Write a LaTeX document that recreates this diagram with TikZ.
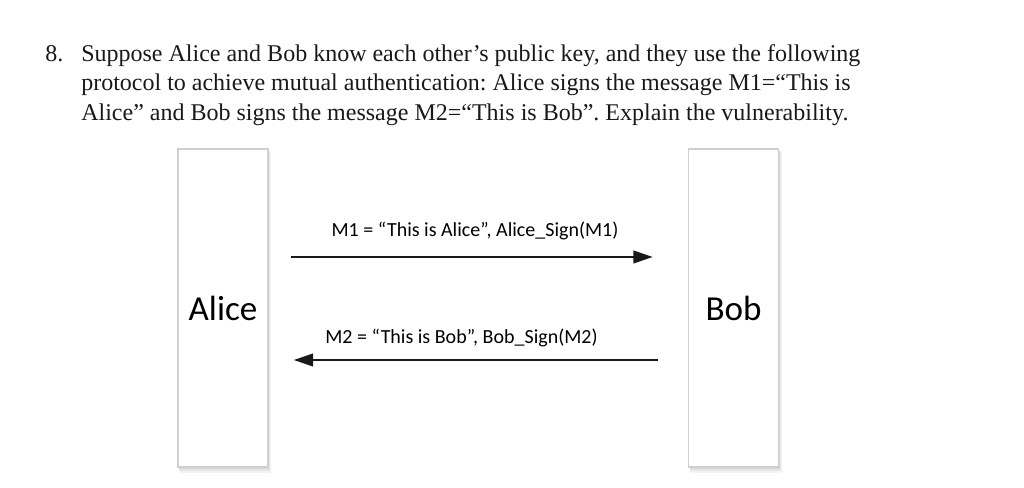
\documentclass[tikz,border=0pt]{standalone}
\usepackage{fontspec}
\setmainfont{Liberation Serif}
\newfontfamily\carlito{Carlito}
\usetikzlibrary{arrows.meta,calc}
\definecolor{boxline}{HTML}{CFCFCF}
\definecolor{shad}{HTML}{BDBDBD}
\frenchspacing
\begin{document}
\begin{tikzpicture}[x=0.75pt,y=-0.75pt,
  party/.style={draw=boxline,line width=1.2pt,fill=white,minimum width=67.5pt,minimum height=238.5pt,inner sep=0pt,font=\carlito\fontsize{26.3}{30}\selectfont},
  msg/.style={line width=1.5pt,draw=black!90},
  tip/.style={-{Triangle[length=14.5pt,width=9.5pt]}},
  lbl/.style={anchor=base,inner sep=0pt,font=\carlito\fontsize{15}{18}\selectfont},
  qline/.style={anchor=base west,inner sep=0pt,font=\fontsize{18}{21}\selectfont,text=black!90}]
\useasboundingbox (0,0) rectangle (1024,488);
% question text
\node[qline] (num) at (45,62) {8.};
\node[qline] (q1) at (81,62) {Suppose Alice and Bob know each other’s public key, and they use the following};
\node[qline] (q2) at (81,91) {protocol to achieve mutual authentication: Alice signs the message M1=“This is};
\node[qline] (q3) at (81,120.5) {Alice” and Bob signs the message M2=“This is Bob”. Explain the vulnerability.};
% shadows
\foreach \c in {223,733.5}{
  \fill[shad,opacity=0.18] (\c-45+1,149+3) rectangle (\c+45+3,467+6);
  \fill[shad,opacity=0.25] (\c-45+1,149+2) rectangle (\c+45+2,467+4);
  \fill[shad,opacity=0.35] (\c-45+1,149+1) rectangle (\c+45+1,467+2);
}
% parties
\node[party] (alice) at (223,308) {Alice};
\node[party] (bob) at (733.5,308) {Bob};
% messages
\draw[msg,tip] ([xshift=16.5pt,yshift=38.25pt]alice.east) coordinate (a1)
  -- ([xshift=-26.25pt,yshift=38.25pt]bob.west) coordinate (b1);
\draw[msg,tip] ([xshift=-22.5pt,yshift=-39pt]bob.west) coordinate (b2)
  -- ([xshift=18.75pt,yshift=-39pt]alice.east) coordinate (a2);
\node[lbl] (m1) at (475,236.5) {M1 = “This is Alice”, Alice\_Sign(M1)};
\node[lbl] (m2) at (461.5,343) {M2 = “This is Bob”, Bob\_Sign(M2)};
\end{tikzpicture}
\end{document}
